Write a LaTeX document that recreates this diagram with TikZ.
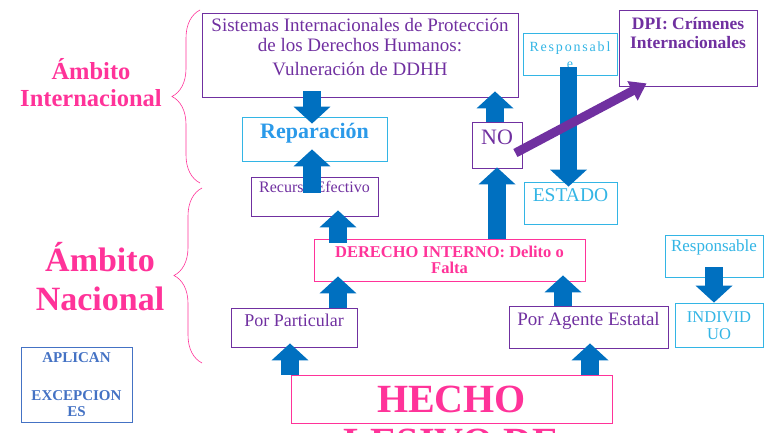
\documentclass[tikz,border=0pt]{standalone}
\usepackage{fontspec}
\setmainfont{Liberation Serif}
\usetikzlibrary{positioning,arrows.meta,decorations.pathreplacing}

\definecolor{violeta}{HTML}{7030A0}
\definecolor{rosa}{HTML}{FF3399}
\definecolor{celeste}{HTML}{33B5E5}
\definecolor{azul}{HTML}{0070C0}
\definecolor{azulgris}{HTML}{4472C4}

\begin{document}
\begin{tikzpicture}[x=1pt,y=-1pt]
  \tikzset{
    caja/.style={draw, line width=0.8pt, inner sep=0pt},
    caja violeta/.style={caja, draw=violeta},
    caja rosa/.style={caja, draw=rosa},
    caja celeste/.style={caja, draw=celeste},
    caja azul/.style={caja, draw=azulgris},
    texto/.style={inner sep=0pt, align=center},
    flecha/.style={draw=azul, line width=17.5pt, -{Triangle[width=36pt,length=17pt]}},
    flecha violeta/.style={draw=violeta, line width=9pt, -{Triangle[width=21pt,length=16pt]}},
    llave/.style={draw=rosa, line width=0.6pt, decorate, decoration={brace, amplitude=28pt}}
  }
  \useasboundingbox (0,0) rectangle (768,433);

  % Ambitos
  \node[texto, text=rosa, font=\bfseries\fontsize{24.5}{27}\selectfont, anchor=south] (amb int) at (91,107) {Ámbito\\Internacional};
  \node[texto, text=rosa, font=\bfseries\fontsize{34}{39}\selectfont, anchor=south] (amb nac) at (100,311) {Ámbito\\Nacional};
  \draw[llave] (200,183) -- (200,10);
  \draw[llave] (202,363) -- (202,188);

  % Ambito internacional
  \node[caja violeta, minimum width=316pt, minimum height=84pt] (sistemas) at (360,55) {};
  \node[texto, text=violeta, font=\fontsize{19}{20}\selectfont, above=21pt of sistemas.south] (sistemas txt) {Sistemas Internacionales de Protección\\de los Derechos Humanos:\\[4pt]Vulneración de DDHH};
  \node[caja celeste, minimum width=145pt, minimum height=44pt] (reparacion) at (314.5,139) {};
  \node[texto, text=celeste!85!blue, font=\bfseries\fontsize{22}{24}\selectfont, anchor=base] (reparacion txt) at ([yshift=-22pt]reparacion.north) {Reparación};
  \node[caja violeta, minimum width=50pt, minimum height=46pt] (no) at (497,145) {};
  \node[texto, text=violeta, font=\fontsize{22}{24}\selectfont, anchor=base] (no txt) at ([yshift=-23pt]no.north) {NO};
  \node[caja celeste, minimum width=94pt, minimum height=42pt] (resp estado) at (570,54) {};
  \node[texto, text=celeste, font=\fontsize{14}{17}\selectfont\addfontfeatures{LetterSpace=13}, above=7pt of resp estado.south] (resp estado txt) {Responsabl\\e};
  \node[caja celeste, minimum width=93pt, minimum height=42pt] (estado) at (570.5,203) {};
  \node[texto, text=celeste, font=\fontsize{19.5}{22}\selectfont, anchor=base] (estado txt) at ([yshift=-20pt]estado.north) {ESTADO};
  \node[caja violeta, minimum width=138pt, minimum height=76pt] (dpi) at (688,48) {};
  \node[texto, text=violeta, font=\bfseries\fontsize{17.5}{19}\selectfont, above=38pt of dpi.south] (dpi txt) {DPI: Crímenes\\Internacionales};

  % Ambito nacional
  \node[caja violeta, minimum width=127pt, minimum height=39pt] (recurso) at (314.5,196.5) {};
  \node[texto, text=violeta, font=\fontsize{16}{18}\selectfont, anchor=base] (recurso txt) at ([yshift=-16pt]recurso.north) {Recurso Efectivo};
  \node[caja rosa, minimum width=271pt, minimum height=42pt] (derecho) at (449.5,260) {};
  \node[texto, text=rosa, font=\bfseries\fontsize{16.5}{16}\selectfont, above=8pt of derecho.south] (derecho txt) {DERECHO INTERNO: Delito o\\Falta};
  \node[caja violeta, minimum width=126pt, minimum height=39pt] (particular) at (294,327.5) {};
  \node[texto, text=violeta, font=\fontsize{18}{20}\selectfont, anchor=base] (particular txt) at ([yshift=-19pt]particular.north) {Por Particular};
  \node[caja violeta, minimum width=159pt, minimum height=42pt] (agente) at (588.5,327) {};
  \node[texto, text=violeta, font=\fontsize{19}{21}\selectfont, anchor=base] (agente txt) at ([yshift=-20pt]agente.north) {Por Agente Estatal};
  \node[caja rosa, minimum width=321pt, minimum height=48pt] (hecho) at (451.5,399) {};
  \node[texto, text=rosa, font=\bfseries\fontsize{40}{43}\selectfont, above=-33pt of hecho.south] (hecho txt) {HECHO\\LESIVO DE};
  \node[caja celeste, minimum width=98pt, minimum height=42pt] (resp individuo) at (714,256) {};
  \node[texto, text=celeste, font=\fontsize{17}{19}\selectfont, anchor=base] (resp individuo txt) at ([yshift=-17pt]resp individuo.north) {Responsable};
  \node[caja celeste, minimum width=88pt, minimum height=44pt] (individuo) at (719,325) {};
  \node[texto, text=celeste, font=\fontsize{16.5}{17}\selectfont, above=8pt of individuo.south] (individuo txt) {INDIVID\\UO};
  \node[caja azul, minimum width=111pt, minimum height=75pt] (aplican) at (76.5,384.5) {};
  \node[texto, text=azulgris, font=\bfseries\fontsize{15}{16}\selectfont, above=6pt of aplican.south] (aplican txt) {APLICAN\\[22pt]EXCEPCION\\ES};

  % Flechas
  \draw[flecha, shorten <=-6pt, shorten >=-7pt] ([xshift=-48pt]sistemas.south) -- ([xshift=-2.5pt]reparacion.north);
  \draw[flecha, shorten <=-16pt, shorten >=-12pt] ([xshift=-2.5pt]recurso.north) -- ([xshift=-2.5pt]reparacion.south);
  \draw[flecha, shorten <=-4pt, shorten >=-6pt] ([xshift=-111.5pt]derecho.north) -- ([xshift=23.5pt]recurso.south);
  \draw[flecha, shorten >=-5pt] ([xshift=44pt]particular.north) -- ([xshift=-111.5pt]derecho.south);
  \draw[flecha, shorten >=-4pt] ([xshift=-161.5pt]hecho.north) -- ([xshift=-4pt]particular.south);
  \draw[flecha, shorten >=-5pt] ([xshift=138.5pt]hecho.north) -- ([xshift=1.5pt]agente.south);
  \draw[flecha, shorten >=-6pt] ([xshift=-25.5pt]agente.north) -- ([xshift=113.5pt]derecho.south);
  \draw[flecha, shorten >=-1pt] ([xshift=47.5pt]derecho.north) -- (no.south);
  \draw[flecha, shorten >=-6pt] ([xshift=-2pt]no.north) -- ([xshift=135pt]sistemas.south);
  \draw[flecha, shorten <=-8pt, shorten >=-5pt] ([xshift=-1.5pt]resp estado.south) -- ([xshift=-2pt]estado.north);
  \draw[flecha, shorten <=-10pt] (resp individuo.south) -- ([xshift=-5pt]individuo.north);
  \draw[flecha violeta] ([xshift=-7pt,yshift=-8pt]no.east) -- ([xshift=28pt,yshift=3pt]dpi.south west);
\end{tikzpicture}
\end{document}
